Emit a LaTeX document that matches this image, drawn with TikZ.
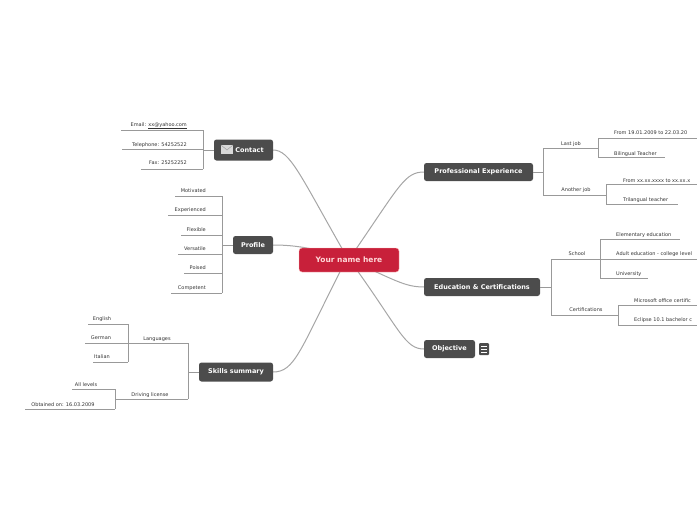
\documentclass[tikz,border=0pt]{standalone}
\usepackage{fontspec}
\setmainfont{DejaVu Sans}
\definecolor{rootred}{HTML}{C8203A}
\begin{document}
\begin{tikzpicture}[x=1pt,y=-1pt,
  box/.style={fill=black!70,rounded corners=2.5pt,text=white,font=\fontsize{6.5}{7}\selectfont\bfseries,inner sep=0pt},
  root/.style={fill=rootred,rounded corners=3pt,text=white!85!red,font=\fontsize{7.5}{8}\selectfont\bfseries,draw=red!30,inner sep=0pt},
  lf/.style={font=\fontsize{5}{6}\selectfont,text=black!80,inner sep=0pt},
  br/.style={draw=black!40,line width=0.8pt},
  con/.style={draw=black!35,line width=1pt}]
\useasboundingbox (0,0) rectangle (697,520);
\begin{scope}
\clip (0,0) rectangle (697,520);
% connectors (behind)
\draw[con] (344,252) .. controls (300,175) and (290,150) .. (273,150);
\draw[con] (344,256) .. controls (310,248) and (295,245) .. (273,245);
\draw[con] (344,264) .. controls (300,350) and (295,372) .. (273,372);
\draw[con] (354,252) .. controls (400,185) and (405,172) .. (424,172);
\draw[con] (354,262) .. controls (395,280) and (405,287) .. (424,287);
\draw[con] (354,266) .. controls (400,330) and (405,349) .. (424,349);
% root
\node[root,minimum width=100,minimum height=24] (root) at (349,260) {Your name here};
% main boxes
\node[box,minimum width=59,minimum height=21] (contact) at (243.5,150) {\hspace*{12pt}Contact};
\fill[white!85!black] (221,145) rectangle (233,154);
\draw[black!40,line width=0.4pt] (221,145) -- (227,150) -- (233,145);
\node[box,minimum width=40,minimum height=18] (profile) at (253,245) {Profile};
\node[box,minimum width=74,minimum height=19] (skills) at (236,372) {Skills summary};
\node[box,minimum width=109,minimum height=18] (prof) at (478.5,172) {Professional Experience};
\node[box,minimum width=116,minimum height=18] (edu) at (482,287) {Education \& Certifications};
\node[box,minimum width=51,minimum height=18] (obj) at (449.5,349) {Objective};
\node[fill=black!70,rounded corners=1pt,minimum width=10,minimum height=12,inner sep=0pt] (note) at (484,349) {};
\foreach \yy in {346,349,352} \draw[white,line width=0.5pt] (481,\yy) -- (487,\yy);
% Contact leaves
\draw[br] (contact.west) -- (203,150);
\draw[br] (203,130) -- (203,169);
\draw[br] (121,130) -- (203,130); \node[lf,anchor=base east] (e1) at (187,126) {Email: \underline{xx@yahoo.com}};
\draw[br] (122,149) -- (203,149); \node[lf,anchor=base east] (e2) at (187,146) {Telephone: 54252522};
\draw[br] (141,169) -- (203,169); \node[lf,anchor=base east] (e3) at (187,164) {Fax: 25252252};
% Profile leaves
\draw[br] (profile.west) -- (222,245);
\draw[br] (222,196) -- (222,293);
\foreach \yl/\xs/\tx in {196/175/Motivated,215/168/Experienced,235/181/Flexible,254/178/Versatile,273/184/Poised,293/171/Competent}{
  \draw[br] (\xs,\yl) -- (222,\yl);
  \node[lf,anchor=base east] at (206,\yl-4) {\tx};}
% Skills
\draw[br] (skills.west) -- (188,372);
\draw[br] (188,343) -- (188,399);
\draw[br] (128,343) -- (188,343); \node[lf,anchor=base] (lang) at (157,340) {Languages};
\draw[br] (115,399) -- (188,399); \node[lf,anchor=base] (drv) at (150,396) {Driving license};
\draw[br] (128,324) -- (128,362);
\foreach \yl/\xs/\tx/\xc in {324/88/English/102,343/85/German/101,362/93/Italian/102}{
  \draw[br] (\xs,\yl) -- (128,\yl);
  \node[lf,anchor=base] at (\xc,\yl-4) {\tx};}
\draw[br] (115,389) -- (115,409);
\draw[br] (72,389) -- (115,389); \node[lf,anchor=base] at (86,386) {All levels};
\draw[br] (25,409) -- (115,409); \node[lf,anchor=base] at (63,406) {Obtained on: 16.03.2009};
% Professional experience
\draw[br] (prof.east) -- (543,172);
\draw[br] (543,148) -- (543,195);
\draw[br] (543,148) -- (598,148); \node[lf,anchor=base] at (571,145) {Last job};
\draw[br] (543,195) -- (606,195); \node[lf,anchor=base] at (576,191) {Another job};
\draw[br] (598,138) -- (598,157);
\draw[br] (598,138) -- (697,138); \node[lf,anchor=base west] at (614,134) {From 19.01.2009 to 22.03.20};
\draw[br] (598,157) -- (665,157); \node[lf,anchor=base west] at (614,155) {Bilingual Teacher};
\draw[br] (606,184) -- (606,204);
\draw[br] (606,184) -- (697,184); \node[lf,anchor=base west] at (623,182) {From xx.xx.xxxx to xx.xx.x};
\draw[br] (606,204) -- (678,204); \node[lf,anchor=base west] at (623,201) {Trilangual teacher};
% Education
\draw[br] (edu.east) -- (551,287);
\draw[br] (551,259) -- (551,315);
\draw[br] (551,259) -- (600,259); \node[lf,anchor=base] at (577,255) {School};
\draw[br] (551,315) -- (618,315); \node[lf,anchor=base] at (586,311) {Certifications};
\draw[br] (600,239) -- (600,278);
\draw[br] (600,239) -- (680,239); \node[lf,anchor=base west] at (616,236) {Elementary education};
\draw[br] (600,259) -- (697,259); \node[lf,anchor=base west] at (616,255) {Adult education - college level};
\draw[br] (600,278) -- (648,278); \node[lf,anchor=base west] at (616,275) {University};
\draw[br] (618,305) -- (618,325);
\draw[br] (618,305) -- (697,305); \node[lf,anchor=base west] at (634,302) {Microsoft office certific};
\draw[br] (618,325) -- (697,325); \node[lf,anchor=base west] at (634,321) {Eclipse 10.1 bachelor c};
\end{scope}
\end{tikzpicture}
\end{document}
